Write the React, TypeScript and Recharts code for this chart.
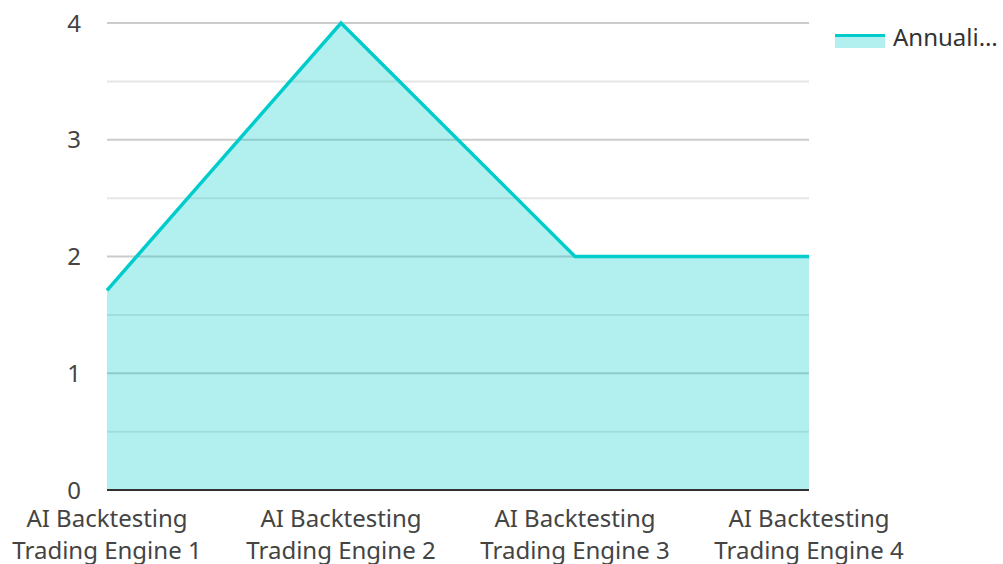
import { Area, AreaChart, CartesianGrid, Legend, XAxis, YAxis } from 'recharts'

// annualized return per engine
const engines = [
  'AI Backtesting Trading Engine 1',
  'AI Backtesting Trading Engine 2',
  'AI Backtesting Trading Engine 3',
  'AI Backtesting Trading Engine 4',
]
const annualized = [1.71, 4, 2, 2]
const yTicks = [0, 1, 2, 3, 4]
const minorTicks = [0.5, 1.5, 2.5, 3.5]
const seriesName = 'Annualized Return'

const data = engines.map((name, i) => ({ name, value: annualized[i] }))

const FONT = '"Noto Sans", "Open Sans", sans-serif'
const LINE = '#00cccc'

function EngineTick({ x, y, payload }: any) {
  const words = String(payload.value).split(' ')
  const lines = [words.slice(0, 2).join(' '), words.slice(2).join(' ')]
  return (
    <g transform={`translate(${x},${y})`}>
      {lines.map((l, i) => (
        <text
          key={i}
          x={0}
          y={29 + i * 32}
          textAnchor="middle"
          fill="#444"
          fontSize={24}
          fontFamily={FONT}
        >
          {l}
        </text>
      ))}
    </g>
  )
}

function SeriesLegend() {
  return (
    <div style={{ width: 168, height: 30, position: 'relative', fontFamily: FONT }}>
      <div style={{ position: 'absolute', left: 26, top: 11, width: 50, height: 3, background: LINE }} />
      <div style={{ position: 'absolute', left: 26, top: 14, width: 50, height: 11, background: 'rgba(0,204,204,0.3)' }} />
      <div
        style={{
          position: 'absolute',
          left: 84,
          top: -3,
          width: 110,
          fontSize: 24,
          color: '#333',
          whiteSpace: 'nowrap',
          overflow: 'hidden',
          textOverflow: 'ellipsis',
        }}
      >
        {seriesName}
      </div>
    </div>
  )
}

export default function App() {
  return (
    <div style={{ position: 'absolute', left: 0, top: 0 }}>
      <AreaChart width={1003} height={564} data={data} margin={{ top: 23, right: 26, left: 0, bottom: 0 }}>
        <CartesianGrid horizontalValues={minorTicks} vertical={false} stroke="#e6e6e6" strokeWidth={2} />
        <CartesianGrid horizontalValues={[1, 2, 3, 4]} vertical={false} stroke="#cccccc" strokeWidth={2} />
        <XAxis
          dataKey="name"
          height={74}
          axisLine={{ stroke: '#333', strokeWidth: 2 }}
          tickLine={false}
          tick={<EngineTick />}
          interval={0}
        />
        <YAxis
          width={107}
          domain={[0, 4]}
          ticks={yTicks}
          axisLine={false}
          tickLine={false}
          tickSize={0}
          tickMargin={26}
          tick={{ fill: '#444', fontSize: 24, fontFamily: FONT }}
        />
        <Legend
          layout="vertical"
          align="right"
          verticalAlign="top"
          content={<SeriesLegend />}
        />
        <Area
          type="linear"
          dataKey="value"
          name={seriesName}
          stroke={LINE}
          strokeWidth={3.5}
          fill={LINE}
          fillOpacity={0.3}
          dot={false}
          activeDot={false}
          isAnimationActive={false}
        />
      </AreaChart>
    </div>
  )
}
